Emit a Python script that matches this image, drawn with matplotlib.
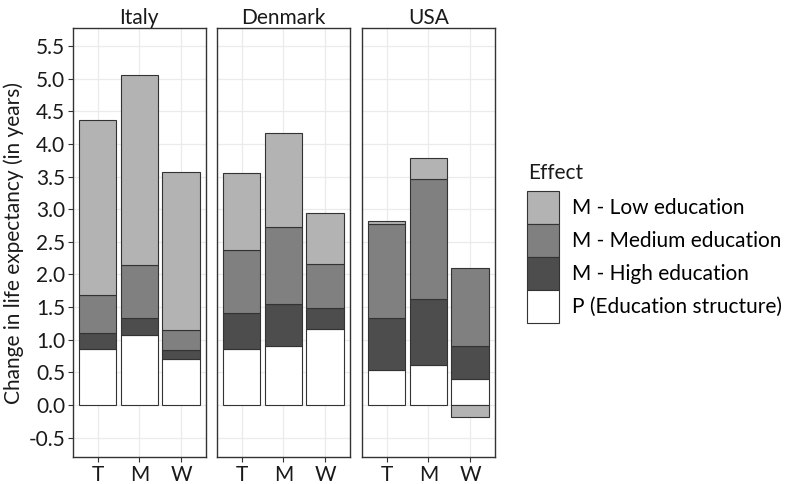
import numpy as np
import matplotlib
matplotlib.use("Agg")
import matplotlib.pyplot as plt
from matplotlib.patches import Patch

plt.rcParams['font.family'] = ['Lato', 'DejaVu Sans']

countries = ["Italy", "Denmark", "USA"]
groups = ["T", "M", "W"]
effects = ["P (Education structure)", "M - High education",
           "M - Medium education", "M - Low education"]
colors = ["#FFFFFF", "#4D4D4D", "#808080", "#B3B3B3"]

# segment sizes per country, order T, M, W
p_struct = {"Italy": [0.86, 1.07, 0.70], "Denmark": [0.86, 0.91, 1.16], "USA": [0.54, 0.62, 0.40]}
m_high = {"Italy": [0.24, 0.27, 0.14], "Denmark": [0.55, 0.64, 0.32], "USA": [0.79, 1.01, 0.51]}
m_medium = {"Italy": [0.58, 0.80, 0.31], "Denmark": [0.96, 1.17, 0.68], "USA": [1.45, 1.83, 1.19]}
m_low = {"Italy": [2.68, 2.92, 2.42], "Denmark": [1.19, 1.44, 0.78], "USA": [0.04, 0.32, -0.18]}

series = [p_struct, m_high, m_medium, m_low]

fig = plt.figure(figsize=(7.85, 4.84), dpi=100)
W, H = 785, 484
lefts = [72.7, 216.7, 361.7]
pw = 133.3
txt = "#1a1a1a"

x = np.arange(len(groups))
for i, c in enumerate(countries):
    ax = fig.add_axes([lefts[i] / W, (H - 457.3) / H, pw / W, (457.3 - 28.3) / H])
    pos = np.zeros(len(groups))
    neg = np.zeros(len(groups))
    for s, col in zip(series, colors):
        v = np.array(s[c])
        base = np.where(v >= 0, pos, neg)
        ax.bar(x, v, 0.9, bottom=base, color=col, edgecolor="#333333", linewidth=0.8, zorder=3)
        pos = pos + np.where(v >= 0, v, 0)
        neg = neg + np.where(v < 0, v, 0)
    ax.set_xlim(-0.6, 2.6)
    ax.set_ylim(-0.8, 5.77)
    ax.set_yticks(np.arange(-0.5, 5.51, 0.5))
    ax.set_xticks(x)
    ax.set_xticklabels(groups)
    ax.grid(color="#EBEBEB", linewidth=0.9, zorder=0)
    ax.set_axisbelow(True)
    for sp in ax.spines.values():
        sp.set_color("#333333")
        sp.set_linewidth(1.0)
    ax.tick_params(colors="#333333", labelcolor=txt, labelsize=15, length=3.5, width=0.8, pad=2)
    if i == 0:
        ax.set_yticklabels([f"{t:.1f}" for t in np.arange(-0.5, 5.51, 0.5)])
        ax.set_ylabel("Change in life expectancy (in years)", fontsize=15, color=txt, labelpad=3)
    else:
        ax.tick_params(axis="y", left=False, labelleft=False)
    ax.set_title(c, fontsize=15, color=txt, pad=3)

fig.text(528 / W, 1 - 173 / H, "Effect", fontsize=15, color=txt, ha="left", va="center")
handles = [Patch(facecolor=colors[k], edgecolor="#333333", linewidth=0.8) for k in [3, 2, 1, 0]]
labels = [effects[k] for k in [3, 2, 1, 0]]
fig.legend(handles, labels, loc="upper left",
           bbox_to_anchor=(527 / W, 1 - 191 / H), frameon=False,
           fontsize=15, handlelength=1.55, handleheight=2.06,
           labelspacing=0.0, handletextpad=0.6, borderpad=0, borderaxespad=0)

fig.savefig("out.png", dpi=100)
